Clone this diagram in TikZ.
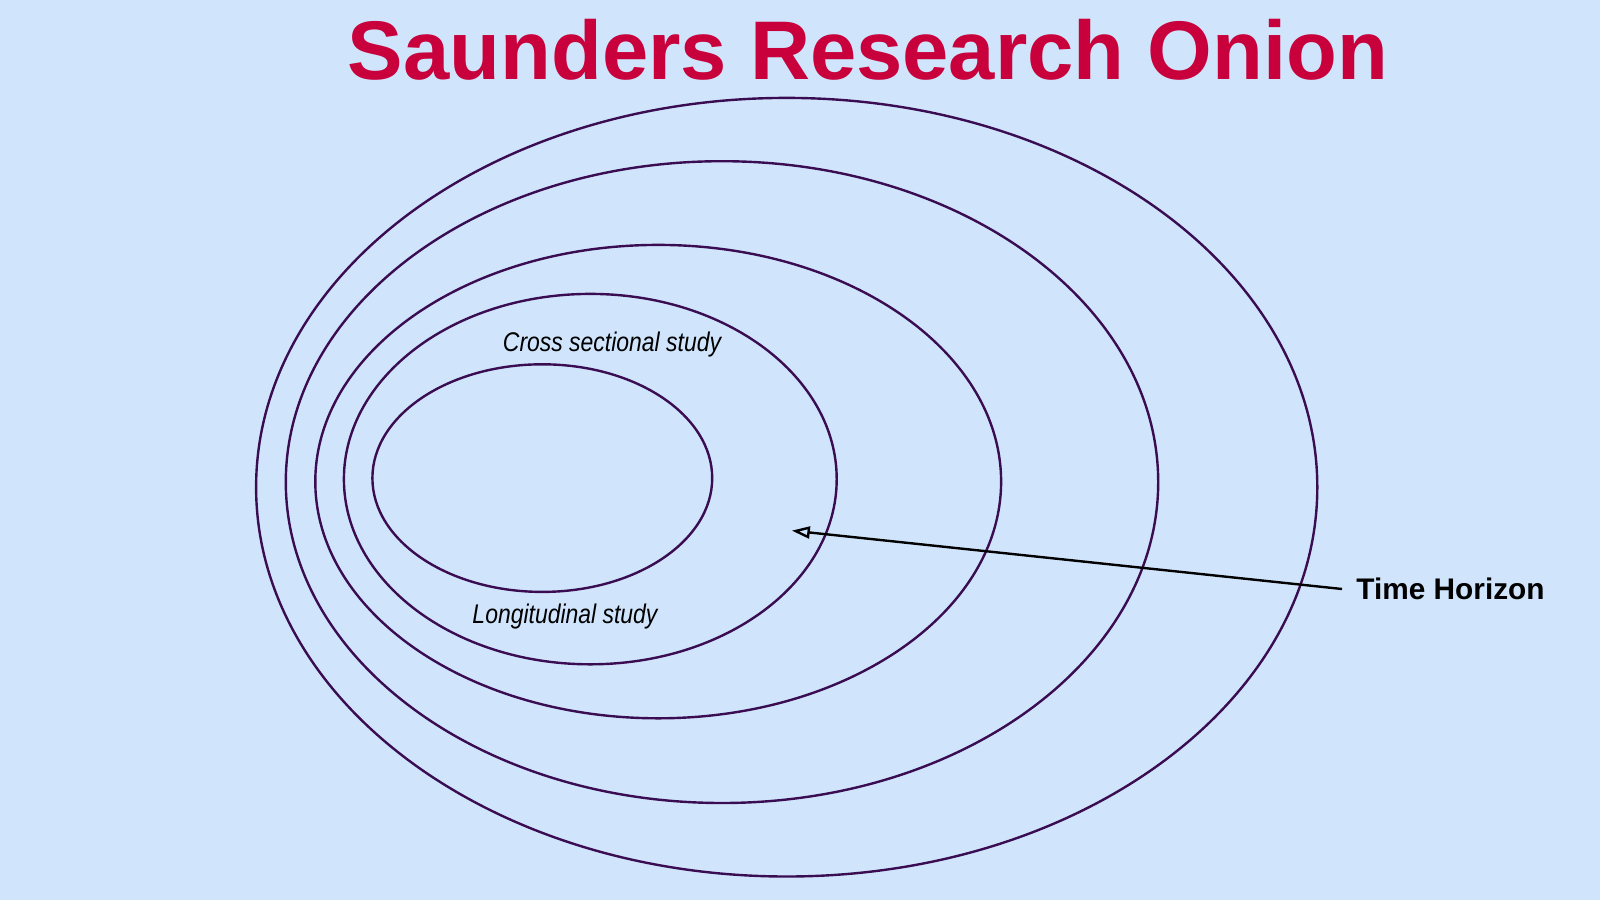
\documentclass[tikz,border=0pt]{standalone}
\usepackage{fontspec}
\setmainfont{Liberation Sans}
\newfontfamily\narrowsf[FakeStretch=0.85]{Liberation Sans}
\usepackage{xcolor}
\usepackage{tikz}
\usetikzlibrary{positioning,arrows.meta}
\definecolor{onbg}{HTML}{D0E5FC}
\definecolor{onred}{HTML}{C8003C}
\definecolor{onring}{HTML}{3A0C52}

\begin{document}
\begin{tikzpicture}[x=0.5pt,y=-0.5pt,
  ring/.style={draw=onring,line width=1.2pt},
  lbl/.style={font=\narrowsf\itshape\fontsize{13.5}{15}\selectfont,inner sep=0pt}]
  \fill[onbg] (0,0) rectangle (1600,900);
  \useasboundingbox (0,0) rectangle (1600,900);
  \node[font=\bfseries\fontsize{41.6}{48}\selectfont,text=onred] (title) at (868,50) {Saunders Research Onion};
  % the rings, outer to inner
  \draw[ring] (786.7,487.2) ellipse [x radius=530.6,y radius=389.3];
  \draw[ring] (722,482.1) ellipse [x radius=436.2,y radius=320.9];
  \draw[ring] (658.2,481.6) ellipse [x radius=342.9,y radius=236.7];
  \draw[ring] (590.3,479.1) ellipse [x radius=246.4,y radius=185.2];
  \draw[ring] (542.3,478.1) ellipse [x radius=169.9,y radius=113.8];
  \node[lbl] (cross) at (612,345) {Cross sectional study};
  \node[lbl] (longi) at (565,617) {Longitudinal study};
  \node[font=\bfseries\fontsize{14.9}{17}\selectfont,inner sep=7pt,anchor=west] (th) at (1342,589) {Time Horizon};
  \coordinate (tip) at (791.8,530.6);
  \draw[-{Triangle[open,length=9pt,width=6pt]},line width=1.2pt] (th.west) -- (tip);
\end{tikzpicture}
\end{document}
